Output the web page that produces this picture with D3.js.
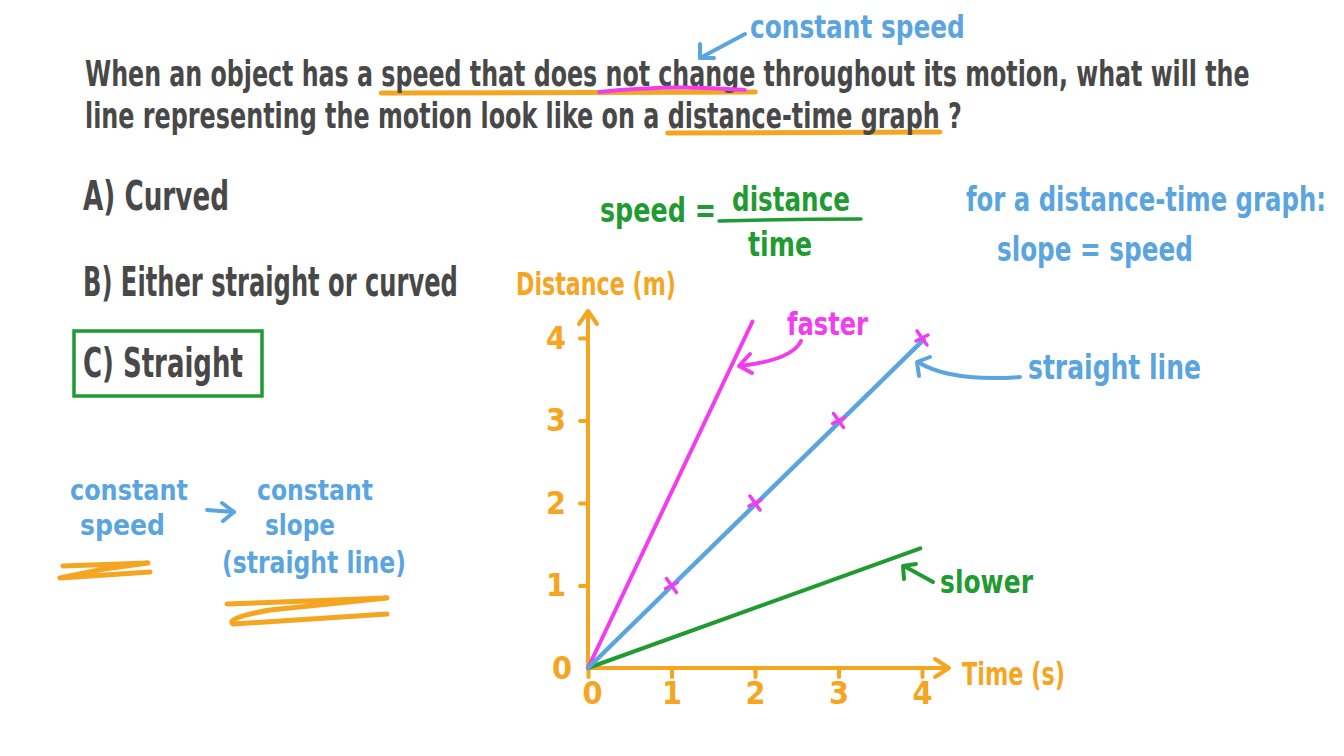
<!DOCTYPE html>
<html>
<head>
<meta charset="utf-8">
<script src="https://cdn.jsdelivr.net/npm/d3@7"></script>
<style>
  html, body { margin: 0; padding: 0; background: #ffffff; }
  svg { display: block; }
</style>
</head>
<body>
<div class="container"></div>
<script>
// chart values
const timeTicks = [0, 1, 2, 3, 4];
const distanceTicks = [0, 1, 2, 3, 4];
const crossTimes = [1, 2, 3, 4];
const crossDistances = [1, 2, 3, 4];
const fasterTimes = [0, 1.97];
const fasterDistances = [0, 4.2];
const steadyTimes = [0, 4.02];
const steadyDistances = [0, 3.98];
const slowerTimes = [0, 3.98];
const slowerDistances = [0, 1.45];

const W = 1344;
const H = 756;
const HAND = "'DejaVu Sans Condensed', 'Liberation Sans Narrow', 'Noto Sans', sans-serif";
const GRAY = "#484848";
const ORANGE = "#f5a51f";
const BLUE = "#5aa5df";
const GREEN = "#1f9b31";
const PINK = "#f23cf0";

const svg = d3
    .select(".container")
    .append("svg")
    .attr("width", W)
    .attr("height", H)
    .style("font-family", HAND)
    .style("font-weight", "bold");

svg.append("rect").attr("width", W).attr("height", H).attr("fill", "#fff");

// text squeezed to a given width, returns group + text node
const fitText = (str, x, y, width, size, fill) => {
    const g = svg.append("g");
    const t = g.append("text")
        .attr("font-size", size)
        .attr("fill", fill)
        .text(str);
    const s = width / t.node().getComputedTextLength();
    g.attr("transform", `translate(${x},${y}) scale(${s},1)`);
    return { g, t };
};

const underline = (item, word, dy, color, sw) => {
    const n = item.t.node();
    const i = n.textContent.indexOf(word);
    const x0 = n.getStartPositionOfChar(i).x;
    const x1 = n.getEndPositionOfChar(i + word.length - 1).x;
    item.g.insert("path", "text")
        .attr("d", `M${x0},${dy} L${x1},${dy - 1}`)
        .attr("stroke", color)
        .attr("stroke-width", sw)
        .attr("stroke-linecap", "round")
        .attr("vector-effect", "non-scaling-stroke")
        .attr("fill", "none");
};

const stroke = (d, color, sw) =>
    svg.append("path")
        .attr("d", d)
        .attr("fill", "none")
        .attr("stroke", color)
        .attr("stroke-width", sw || 4)
        .attr("stroke-linecap", "round")
        .attr("stroke-linejoin", "round");

// question
const q1 = fitText("When an object has a speed that does not change throughout its motion, what will the", 85, 86, 1165, 35, GRAY);
underline(q1, "speed that does not change", 7, ORANGE, 5);
{
    const n = q1.t.node();
    const i = n.textContent.indexOf("not change");
    const x0 = n.getStartPositionOfChar(i).x - 8;
    const x1 = n.getEndPositionOfChar(i + 9).x - 14;
    q1.g.append("path")
        .attr("d", `M${x0},6 Q${(x0 + x1) / 2},-2 ${x1},4`)
        .attr("stroke", PINK)
        .attr("stroke-width", 4)
        .attr("stroke-linecap", "round")
        .attr("vector-effect", "non-scaling-stroke")
        .attr("fill", "none");
}
const q2 = fitText("line representing the motion look like on a distance-time graph ?", 85, 128, 877, 35, GRAY);
underline(q2, "distance-time graph", 5, ORANGE, 5);

fitText("constant speed", 750, 38, 215, 32, BLUE);
stroke("M745,34 L700,58", BLUE, 4);
stroke("M700,44 L700,58 L714,58", BLUE, 4);

// options
fitText("A)  Curved", 83, 210, 146, 40, GRAY);
fitText("B) Either straight or curved", 83, 296, 375, 40, GRAY);
fitText("C) Straight", 83, 377, 160, 40, GRAY);
svg.append("rect")
    .attr("x", 74).attr("y", 331)
    .attr("width", 188).attr("height", 65)
    .attr("fill", "none")
    .attr("stroke", GREEN)
    .attr("stroke-width", 3.5);

// formula
fitText("speed =", 600, 222, 116, 34, GREEN);
fitText("distance", 732, 211, 118, 34, GREEN);
stroke("M719,221 Q790,219 861,219", GREEN, 3.5);
fitText("time", 748, 256, 64, 34, GREEN);

fitText("for a distance-time graph:", 966, 211, 360, 34, BLUE);
fitText("slope = speed", 997, 261, 196, 34, BLUE);

// notes bottom-left
fitText("constant", 70, 500, 118, 29, BLUE);
fitText("speed", 80, 535, 85, 29, BLUE);
stroke("M63,566 L148,563 L104,569 L60,578 L150,572", ORANGE, 5);
stroke("M207,510 L234,512", BLUE, 4);
stroke("M222,503 L234,512 L223,521", BLUE, 4);
fitText("constant", 257, 500, 116, 29, BLUE);
fitText("slope", 265, 535, 70, 29, BLUE);
fitText("(straight line)", 222, 573, 184, 30, BLUE);
stroke("M227,604 L387,598 L270,610 Q225,618 233,624 L387,614", ORANGE, 5);

// graph
const x = d3.scaleLinear().domain([0, 4]).range([588, 922]);
const y = d3.scaleLinear().domain([0, 4]).range([668, 338]);

const xAxis = svg.append("g")
    .attr("transform", `translate(0,${y(0)})`)
    .call(d3.axisBottom(x).tickValues(timeTicks).tickSize(9).tickPadding(4).tickFormat(d3.format("d")));
const yAxis = svg.append("g")
    .attr("transform", `translate(${x(0)},0)`)
    .call(d3.axisLeft(y).tickValues(distanceTicks).tickSize(8).tickPadding(14).tickFormat(d3.format("d")));

[xAxis, yAxis].forEach((a) => {
    a.select(".domain").remove();
    a.selectAll("line")
        .attr("stroke", ORANGE)
        .attr("stroke-width", 4)
        .attr("stroke-linecap", "round");
    a.selectAll("text")
        .attr("fill", ORANGE)
        .attr("font-size", 32)
        .attr("font-family", HAND)
        .attr("font-weight", "bold");
});
yAxis.selectAll(".tick").filter((d) => d === 0).select("line").remove();
xAxis.selectAll(".tick").filter((d) => d === 0).select("text").attr("x", 4);
yAxis.selectAll(".tick").filter((d) => d === 0).select("text").attr("x", -16);

stroke(`M${x(0)},${y(0)} L${x(0)},${y(4) - 26}`, ORANGE, 4);
stroke(`M${x(0) - 9},${y(4) - 14} L${x(0)},${y(4) - 27} L${x(0) + 9},${y(4) - 14}`, ORANGE, 4);
stroke(`M${x(0)},${y(0)} L${x(4) + 26},${y(0)}`, ORANGE, 4);
stroke(`M${x(4) + 13},${y(0) - 9} L${x(4) + 27},${y(0)} L${x(4) + 13},${y(0) + 9}`, ORANGE, 4);

fitText("Distance (m)", 516, 295, 160, 32, ORANGE);
fitText("Time (s)", 962, 685, 103, 32, ORANGE);

const line = d3.line().x((d) => x(d[0])).y((d) => y(d[1]));

svg.append("path")
    .datum(slowerTimes.map((t, i) => [t, slowerDistances[i]]))
    .attr("d", line)
    .attr("fill", "none").attr("stroke", GREEN).attr("stroke-width", 4).attr("stroke-linecap", "round");
svg.append("path")
    .datum(fasterTimes.map((t, i) => [t, fasterDistances[i]]))
    .attr("d", line)
    .attr("fill", "none").attr("stroke", PINK).attr("stroke-width", 4).attr("stroke-linecap", "round");
svg.append("path")
    .datum(steadyTimes.map((t, i) => [t, steadyDistances[i]]))
    .attr("d", line)
    .attr("fill", "none").attr("stroke", BLUE).attr("stroke-width", 4.5).attr("stroke-linecap", "round");

svg.selectAll(".cross")
    .data(crossTimes.map((t, i) => [t, crossDistances[i]]))
    .enter()
    .append("path")
    .attr("class", "cross")
    .attr("d", (d) => {
        const cx = x(d[0]);
        const cy = y(d[1]);
        return `M${cx - 5},${cy - 7} L${cx + 5},${cy + 7} M${cx - 6},${cy + 3} L${cx + 6},${cy - 3}`;
    })
    .attr("fill", "none").attr("stroke", PINK).attr("stroke-width", 3.5).attr("stroke-linecap", "round");

// annotations
fitText("faster", 787, 335, 81, 32, PINK);
stroke("M801,341 Q792,360 740,366", PINK, 4);
stroke("M750,354 L739,366 L752,373", PINK, 4);

fitText("straight line", 1028, 379, 173, 34, BLUE);
stroke("M1020,377 Q950,382 918,362", BLUE, 4);
stroke("M919,376 L917,362 L930,357", BLUE, 4);

fitText("slower", 940, 593, 93, 32, GREEN);
stroke("M933,582 L904,566", GREEN, 4);
stroke("M904,579 L903,566 L916,564", GREEN, 4);
</script>
</body>
</html>
